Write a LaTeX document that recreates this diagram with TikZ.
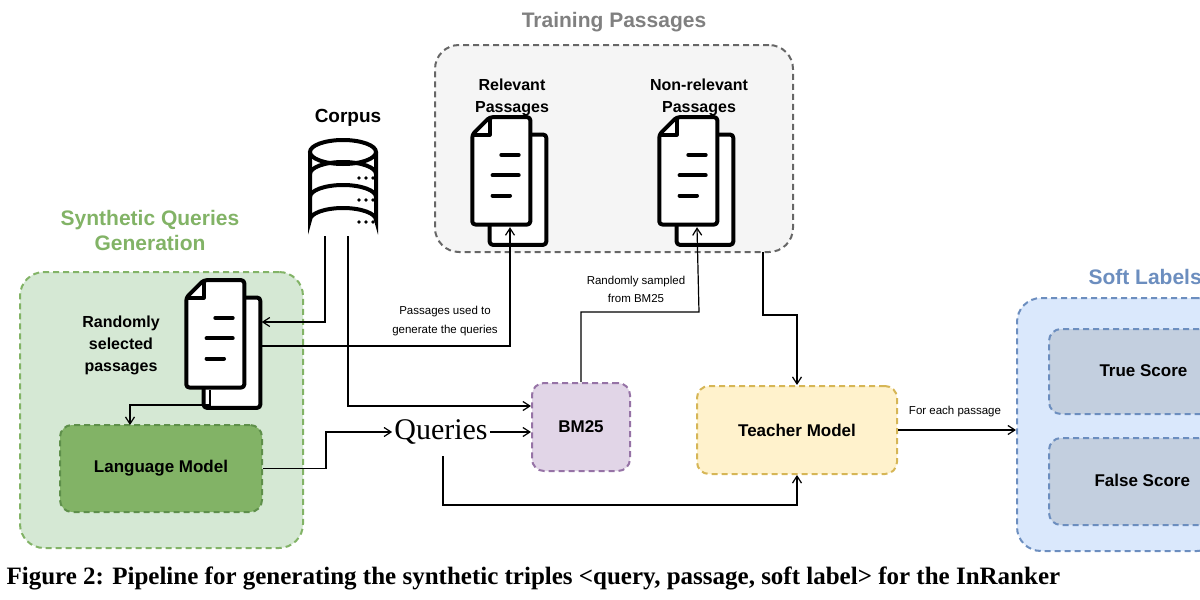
\documentclass[tikz,border=0pt]{standalone}
\usepackage{fontspec}
\setmainfont{Liberation Sans}
\newfontfamily\serifd{Liberation Serif}
\usetikzlibrary{arrows.meta}
\definecolor{gfill}{HTML}{D5E8D4}\definecolor{gline}{HTML}{82B366}
\definecolor{lmfill}{HTML}{82B366}\definecolor{lmline}{HTML}{5E8F4A}
\definecolor{pfill}{HTML}{E1D5E7}\definecolor{pline}{HTML}{9673A6}
\definecolor{yfill}{HTML}{FFF2CC}\definecolor{yline}{HTML}{D6B656}
\definecolor{bfill}{HTML}{DAE8FC}\definecolor{bline}{HTML}{6C8EBF}
\definecolor{sfill}{HTML}{C3CFDF}
\definecolor{tfill}{HTML}{F5F5F5}\definecolor{tline}{HTML}{666666}
\tikzset{
 box/.style={draw, rounded corners=12pt, line width=2pt, dash pattern=on 6pt off 4pt},
 lbl/.style={font=\fontsize{17}{20}\selectfont\bfseries, align=center},
 ttl/.style={font=\fontsize{21}{25}\selectfont\bfseries, align=center},
 small/.style={font=\fontsize{11.5}{13}\selectfont, align=center},
 arr/.style={line width=1.2pt, -{Straight Barb[length=7pt,width=9pt]}},
 doc/.pic={
  \begin{scope}[scale=1.45, line width=4pt, rounded corners=3pt, line join=round]
  \draw[fill=white] (-14,-32) -- (25,-32) -- (25,44) -- (-14,44) -- cycle;
  \draw[fill=white] (-14,-44) -- (14,-44) -- (14,30) -- (-26,30) -- (-26,-32) -- cycle;
  \draw[sharp corners] (-26,-32) -- (-14,-32) -- (-14,-44);
  \draw[line cap=round] (-6,-18) -- (6,-18) (-12,-4) -- (6,-4) (-12,10) -- (0,10);
  \end{scope}}
}
\begin{document}
\begin{tikzpicture}[x=1pt,y=-1pt]
\useasboundingbox (0,0) rectangle (1200,600);
\clip (0,0) rectangle (1200,600);
% containers
\node[box, fill=tfill, draw=tline, minimum width=358, minimum height=207, rounded corners=24pt] (train) at (614,148.5) {};
\node[ttl, text=gray] (traint) at (614,22) {Training Passages};
\coordinate (tout) at (763,252);
\node[box, fill=gfill, draw=gline, minimum width=283, minimum height=276, rounded corners=24pt] (green) at (161.5,410) {};
\node[ttl, text=gline] (greent) at (150,230) {Synthetic Queries\\Generation};
\node[box, fill=bfill, draw=bline, minimum width=204, minimum height=253, rounded corners=24pt, anchor=north west] (soft) at (1016,297) {};
\node[ttl, text=bline, anchor=west] (softt) at (1085,277) {Soft Labels};
\node[box, fill=sfill, draw=bline, minimum width=172, minimum height=85, anchor=north west] (true) at (1048,328) {};
\node[lbl, anchor=west] (truet) at (1096,371) {True Score};
\node[box, fill=sfill, draw=bline, minimum width=172, minimum height=87, anchor=north west] (false) at (1048,437) {};
\node[lbl, anchor=west] (falset) at (1091,480) {False Score};
% passages
\node[lbl, font=\fontsize{16}{22}\selectfont\bfseries] (relt) at (512,97) {Relevant\\Passages};
\node[lbl, font=\fontsize{16}{22}\selectfont\bfseries] (nrelt) at (699,97) {Non-relevant\\Passages};
\node[minimum width=75, minimum height=92, inner sep=0] (rel) at (510,181) {};
\pic at (510,181) {doc};
\node[minimum width=75, minimum height=92, inner sep=0] (nrel) at (697,181) {};
\pic at (697,181) {doc};
% corpus
\node[lbl, font=\fontsize{19}{22}\selectfont\bfseries] (corpust) at (348,118) {Corpus};
\node[minimum width=72, minimum height=94, inner sep=0] (corpus) at (343,187) {};
\begin{scope}[line width=4pt]
\draw[fill=white] (310,152) -- (310,220) arc[start angle=180,end angle=360,x radius=33,y radius=12] -- (376,152);
\draw[fill=white] (343,152) ellipse[x radius=33,y radius=12];
\draw (310,174) arc[start angle=180,end angle=360,x radius=33,y radius=12];
\draw (310,197) arc[start angle=180,end angle=360,x radius=33,y radius=12];
\foreach \y in {178,200,222}{\foreach \x in {359,366,373}{\fill (\x,\y) circle (1.8);}}
\end{scope}
% random passages
\node[lbl, font=\fontsize{16}{22}\selectfont\bfseries] (randt) at (121,345) {Randomly\\selected\\passages};
\node[minimum width=75, minimum height=92, inner sep=0] (rand) at (224,344) {};
\pic at (224,344) {doc};
% boxes
\node[box, fill=lmfill, draw=lmline, minimum width=202, minimum height=87, lbl] (lm) at (161,468.5) {Language Model};
\coordinate (lmin) at (130,425);
\node[font=\serifd\fontsize{30}{32}\selectfont, inner sep=2pt] (q) at (441,432) {Queries};
\node[box, fill=pfill, draw=pline, minimum width=98, minimum height=88, lbl] (bm) at (581,427) {BM25};
\node[box, fill=yfill, draw=yline, minimum width=200, minimum height=88, lbl] (tm) at (797,430) {Teacher Model};
% connectors
\draw[arr] (325,236) |- (rand.east |- 0,322);
\draw[arr] (348,236) |- (bm.west |- 0,406);
\draw[arr] (rand.east |- 0,346) -| (rel.south);
\node[small, fill=white, inner sep=1pt] (l1a) at (445,331) {generate the queries};
\node[small] (l1b) at (445,312) {Passages used to};
\draw[arr] (210,390) |- (130,405) -- (lmin);
\draw[arr] (lm.east) -| (326,432) -- (q.west);
\draw[arr] (q.east) -- (bm.west |- q.east);
\draw[arr] (443,456) |- (797,505) -- (tm.south);
\draw[arr] (bm.north) |- (699,312) -- (nrel.south);
\node[small, fill=white, inner sep=1pt] (l2a) at (636,298) {from BM25};
\node[small] (l2b) at (636,282) {Randomly sampled};
\draw[arr] (tout) |- (797,315) -- (tm.north);
\draw[arr] (tm.east) -- (soft.west |- tm.east);
\node[small] (l3) at (955,412) {For each passage};
% caption
\node[anchor=west, font=\serifd\fontsize{25}{28}\selectfont\bfseries] (cap) at (3,578) {Figure 2: Pipeline for generating the synthetic triples <query, passage, soft label> for the InRanker};
\end{tikzpicture}
\end{document}
